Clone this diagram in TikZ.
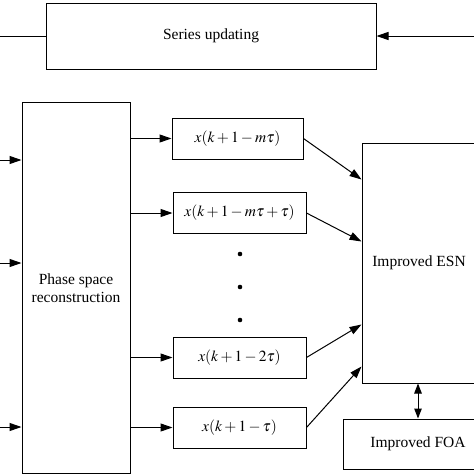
\documentclass[tikz,border=0pt]{standalone}
\usepackage{mathptmx}
\usepackage{fontspec}
\setmainfont{Liberation Serif}
\usepackage{tikz}
\usetikzlibrary{calc,positioning,arrows.meta}

\begin{document}
\begin{tikzpicture}[
                x=1pt,y=-1pt,
                line width=1pt,
                font=\fontsize{15.5}{18.5}\selectfont,
                every node/.append style={draw,rectangle,inner sep=2pt,align=center},
                arr/.style={-{Triangle[length=12pt,width=8pt]}},
                darr/.style={{Triangle[length=10pt,width=7.5pt]}-{Triangle[length=10pt,width=7.5pt]}},
                delay/.style={minimum width=133pt,minimum height=41pt}
            ]
                \useasboundingbox (0,0) rectangle (474,474);
                \clip (0,0) rectangle (474,474);
                % blocks
                \node (su) [minimum width=330pt,minimum height=66pt] at (211,36) {Series updating};
                \node (psr) [minimum width=108pt,minimum height=371pt] at (76,288) {Phase space\\reconstruction};
                \node (x1) [delay,minimum width=131pt] at (237.5,138.5) {$x(k+1-m\tau)$};
                \node (x2) [delay]                     at (239.5,213)   {$x(k+1-m\tau+\tau)$};
                \node (x3) [delay]                     at (239.5,357.5) {$x(k+1-2\tau)$};
                \node (x4) [delay]                     at (239.5,427.5) {$x(k+1-\tau)$};
                \node (esn) [minimum width=114pt,minimum height=240pt] at (419,263) {Improved ESN};
                \node (foa) [minimum width=150pt,minimum height=50pt] at (418,444) {Improved FOA};
                % free ends
                \coordinate (fbl) at (-5,36);
                \coordinate (fbr) at (480,36);
                \coordinate (in1) at (-5,160);
                \coordinate (in2) at (-5,263);
                \coordinate (in3) at (-5,427);
                % connectors
                \draw (fbl) -- (su.west);
                \draw[arr] (fbr) -- (su.east);
                \foreach \i in {in1,in2,in3}
                    \draw[arr] (\i) -- (\i -| psr.west);
                \foreach \i in {x1,x2,x3,x4}
                    \draw[arr] (psr.east |- \i.west) -- (\i.west);
                \draw[arr] (x1.east) -- ([yshift=-37pt]esn.north west);
                \draw[arr] (x2.east) -- ([yshift=-99pt]esn.north west);
                \draw[arr] (x3.east) -- ([yshift=-182pt]esn.north west);
                \draw[arr] (x4.east) -- ([yshift=-224pt]esn.north west);
                \draw[darr] (esn.south -| foa.north) -- (foa.north);
                % dots
                \foreach \y in {254,287,320}
                    \fill (240,\y) circle (2.3pt);
            \end{tikzpicture}
\end{document}
